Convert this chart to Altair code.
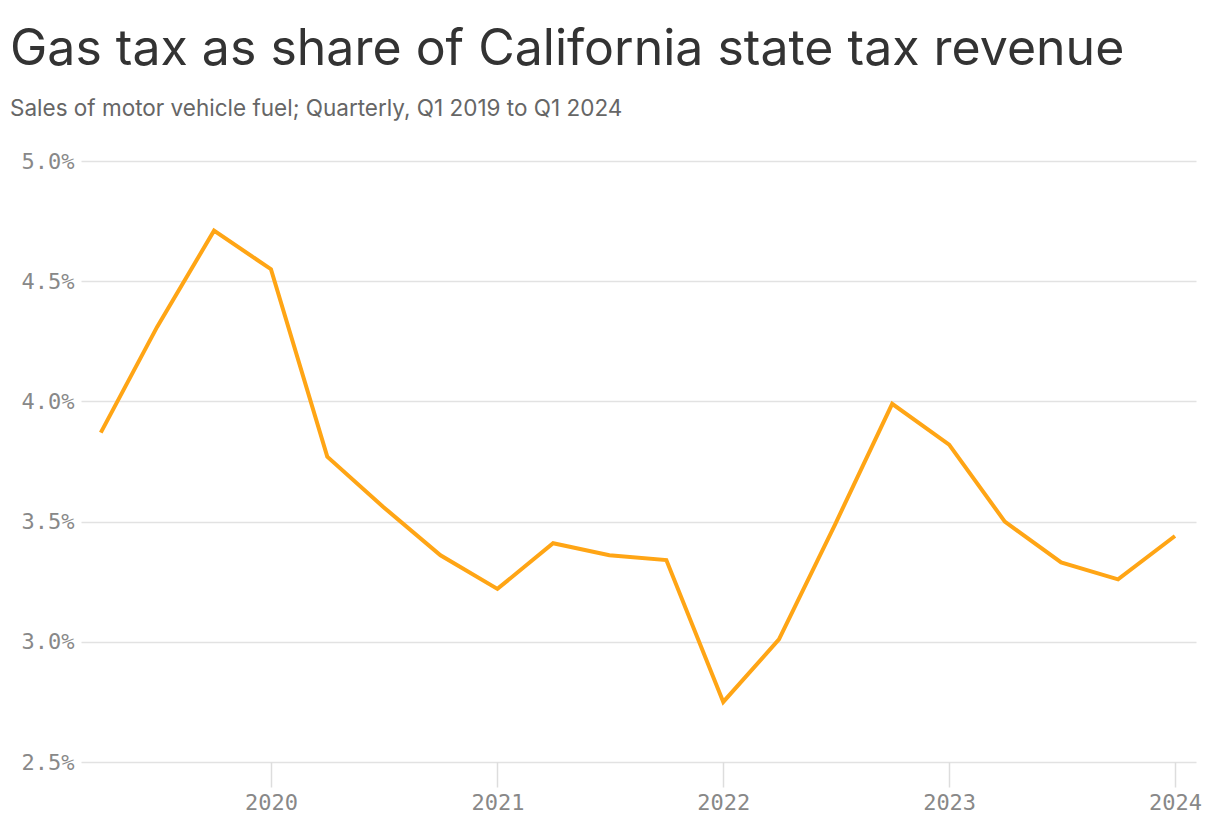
import altair as alt
import pandas as pd

# Quarterly gas tax share of CA state tax revenue (percent)
quarters = [
    "2019-04-01", "2019-07-01", "2019-10-01", "2020-01-01",
    "2020-04-01", "2020-07-01", "2020-10-01", "2021-01-01",
    "2021-04-01", "2021-07-01", "2021-10-01", "2022-01-01",
    "2022-04-01", "2022-07-01", "2022-10-01", "2023-01-01",
    "2023-04-01", "2023-07-01", "2023-10-01", "2024-01-01",
]
share_pct = [
    3.87, 4.31, 4.71, 4.55,
    3.77, 3.56, 3.36, 3.22,
    3.41, 3.36, 3.34, 2.75,
    3.01, 3.49, 3.99, 3.82,
    3.50, 3.33, 3.26, 3.44,
]
year_ticks = ["2020-01-01", "2021-01-01", "2022-01-01", "2023-01-01", "2024-01-01"]

df = pd.DataFrame({"date": pd.to_datetime(quarters), "share": [v / 100 for v in share_pct]})

mono = "DejaVu Sans Mono"
sans = "Inter"

line = alt.Chart(df).mark_line(color="#FFA515", strokeWidth=4, strokeJoin="miter").encode(
    x=alt.X(
        "date:T",
        scale=alt.Scale(domain=["2019-02-28", "2024-02-04"]),
        axis=alt.Axis(
            title=None,
            values=year_ticks,
            format="%Y",
            grid=False,
            domain=False,
            ticks=True,
            tickSize=25,
            tickColor="#dddddd",
            tickWidth=1.5,
            labelFont=mono,
            labelFontSize=22,
            labelColor="#888888",
            labelPadding=5,
        ),
    ),
    y=alt.Y(
        "share:Q",
        scale=alt.Scale(domain=[0.025, 0.05]),
        axis=alt.Axis(
            title=None,
            format=".1%",
            values=[0.025, 0.03, 0.035, 0.04, 0.045, 0.05],
            grid=True,
            gridColor="#e2e2e2",
            gridWidth=1.5,
            domain=False,
            ticks=False,
            labelFont=mono,
            labelFontSize=22,
            labelColor="#888888",
            labelPadding=7,
        ),
    ),
)

# fixed layout: plot area sits at (81, 161) on the page
chart = line.properties(
    width=1115,
    height=601,
    autosize=alt.AutoSizeParams(type="none"),
    padding={"left": 73, "top": 153, "right": 8, "bottom": 60},
    title=alt.TitleParams(
        text="Gas tax as share of California state tax revenue",
        subtitle="Sales of motor vehicle fuel; Quarterly, Q1 2019 to Q1 2024",
        anchor="start",
        frame="group",
        font=sans,
        fontSize=50,
        fontWeight="normal",
        color="#333333",
        subtitleFont=sans,
        subtitleFontSize=22.5,
        subtitleColor="#666666",
        subtitlePadding=23,
        offset=30,
        dx=-71,
    ),
).configure_view(strokeWidth=0)

chart.save("out.html", embed_options={"renderer": "svg", "actions": False})
